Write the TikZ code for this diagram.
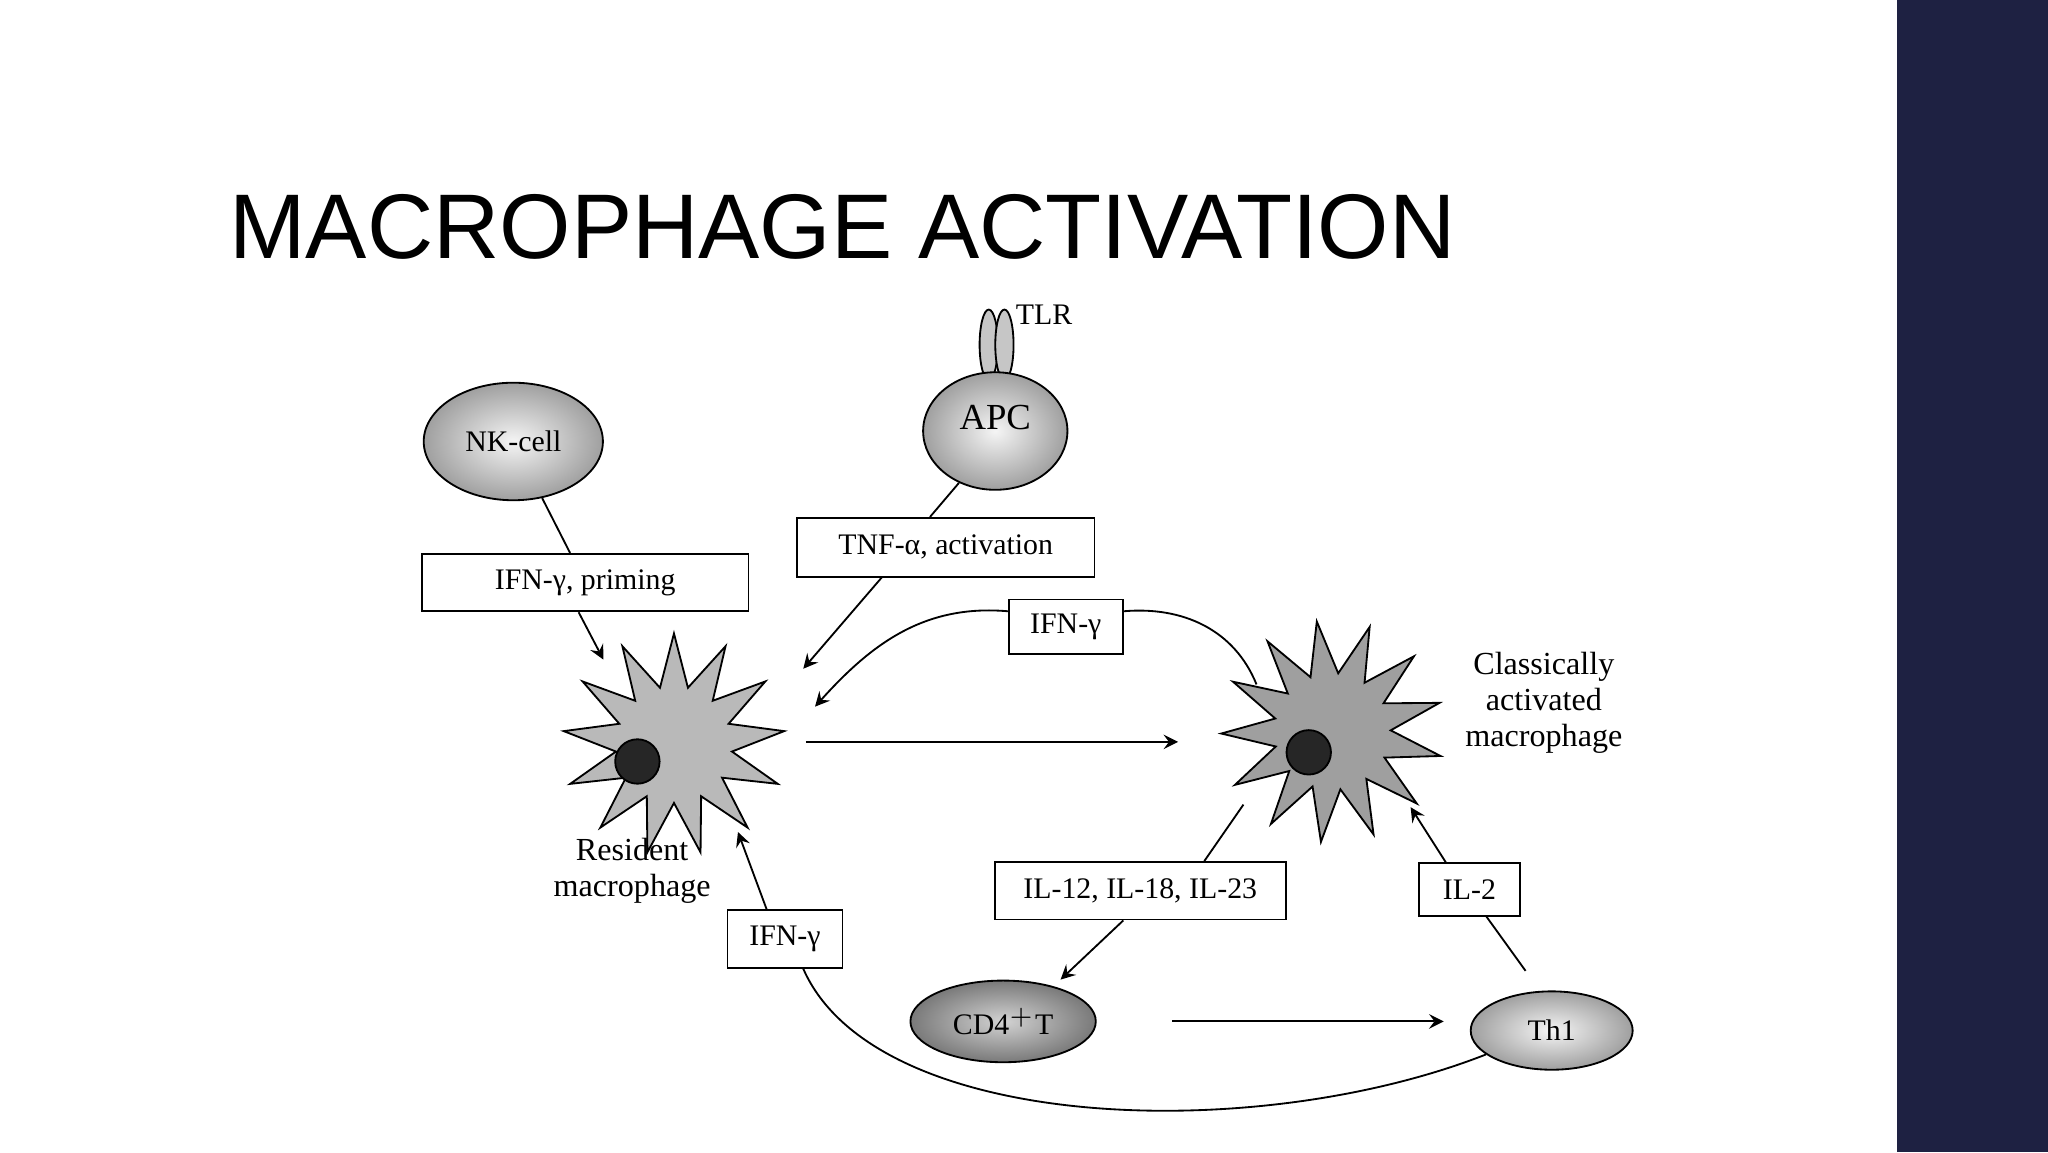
\documentclass[tikz,border=0pt]{standalone}
\usepackage{fontspec}
\setmainfont{Liberation Serif}
\newfontfamily\titlefont{Liberation Sans}
\usetikzlibrary{shapes.geometric, arrows, positioning, calc}

\begin{document}
\begin{tikzpicture}[every node/.style={font=\fontsize{6.5}{7.8}\selectfont},
  lbl/.style={draw, rectangle, thin, fill=white, inner sep=0pt},
  cell/.style={draw, ellipse, thin, shading=radial, inner color=gray!8, outer color=gray!75},
  dcell/.style={draw, ellipse, thin, shading=radial, inner color=gray!35, outer color=gray!95!black},
  mphage/.style={draw, thin, star, star points=13, star point ratio=1.9, minimum size=1.7cm},
  arr/.style={-stealth, thin}]
\useasboundingbox (0,0) rectangle (15.68,8.82);
% side bar and title
\fill[fill={rgb,255:red,30;green,33;blue,66}] (14.52,0) rectangle (15.68,8.82);
\node[anchor=base west, inner sep=0pt, font=\titlefont\fontsize{20}{24}\selectfont] (title) at (1.75,6.84) {MACROPHAGE ACTIVATION};

% cells
\node[cell, minimum width=1.28cm, minimum height=0.9cm] (nk) at (3.93,5.44) {NK-cell};
\draw[thin, fill=gray!45] (7.57,6.18) ellipse (0.07 and 0.27);
\draw[thin, fill=gray!45] (7.69,6.18) ellipse (0.07 and 0.27);
\node[cell, minimum width=1.1cm, minimum height=0.9cm, text depth=6pt] (apc) at (7.62,5.52) {\fontsize{8}{9}\selectfont APC};
\node[anchor=west, inner sep=0pt] (tlr) at (7.77,6.41) {TLR};

\node[mphage, fill=gray!55] (res) at (5.16,3.12) {};
\fill[black!85] (4.88,2.99) circle (0.17);
\draw (4.88,2.99) circle (0.17);
\node[align=center] (reslbl) at (4.84,2.15) {\fontsize{7}{10}\selectfont Resident\\\fontsize{7}{10}\selectfont macrophage};

\node[mphage, fill=gray!75, rotate=8] (cla) at (10.20,3.22) {};
\fill[black!85] (10.02,3.06) circle (0.17);
\draw (10.02,3.06) circle (0.17);
\node[align=center] (clalbl) at (11.82,3.44) {\fontsize{7}{10}\selectfont Classically\\\fontsize{7}{10}\selectfont activated\\\fontsize{7}{10}\selectfont macrophage};

\node[dcell, minimum width=1.24cm, minimum height=0.54cm] (cd4) at (7.68,1.00) {CD4$^{+}$T};
\node[cell, minimum width=1.24cm, minimum height=0.6cm] (th1) at (11.88,0.93) {Th1};

% cytokine boxes
\node[lbl, minimum width=2.5cm, minimum height=0.44cm] (prim) at (4.48,4.36) {IFN-γ, priming};
\node[lbl, minimum width=2.28cm, minimum height=0.45cm] (tnf) at (7.24,4.63) {TNF-α, activation};
\node[lbl, minimum width=0.87cm, minimum height=0.42cm] (ifnT) at (8.16,4.02) {IFN-γ};
\node[lbl, minimum width=2.23cm, minimum height=0.44cm] (il) at (8.73,2.00) {IL-12, IL-18, IL-23};
\node[lbl, minimum width=0.77cm, minimum height=0.40cm] (il2) at (11.25,2.01) {IL-2};
\node[lbl, minimum width=0.88cm, minimum height=0.44cm] (ifnB) at (6.01,1.63) {IFN-γ};

% arrow ends
\coordinate (rPrim) at (4.62,3.77);
\coordinate (rTnf) at (6.15,3.70);
\coordinate (rIfn) at (6.24,3.41);
\coordinate (rOut) at (6.17,3.14);
\coordinate (cIn) at (9.02,3.14);
\coordinate (cTop) at (9.62,3.58);
\coordinate (cLow) at (9.52,2.66);
\coordinate (cIl2) at (10.80,2.64);
\coordinate (rIfnB) at (5.65,2.45);
\coordinate (tCd4) at (8.12,1.32);

% connectors
\draw[thin] (nk) -- (prim);
\draw[arr] ([xshift=-0.5mm]prim.south) -- (rPrim);
\draw[thin] (apc.235) -- ([xshift=-1.2mm]tnf.north);
\draw[arr] ([xshift=-4.9mm]tnf.south) -- (rTnf);
\draw[thin] (cTop) to[out=112,in=5] ([yshift=1.2mm]ifnT.east);
\draw[arr] ([yshift=1.2mm]ifnT.west) to[out=175,in=48] (rIfn);
\draw[arr] (rOut) -- (cIn);
\draw[thin] (cLow) -- ([xshift=4.9mm]il.north);
\draw[arr] ([xshift=-1.3mm]il.south) -- (tCd4);
\draw[arr, shorten <=5.8mm, shorten >=2mm] (cd4.east) -- (cd4.east -| th1.west);
\draw[thin] ([xshift=-2mm,yshift=1.5mm]th1.north) -- ([xshift=1.3mm]il2.south);
\draw[arr] ([xshift=-1.8mm]il2.north) -- (cIl2);
\draw[thin] (th1.200) .. controls (9.6,0.05) and (6.7,0.15) .. ([xshift=1.4mm]ifnB.south);
\draw[arr] ([xshift=-1.4mm]ifnB.north) -- (rIfnB);
\end{tikzpicture}
\end{document}
